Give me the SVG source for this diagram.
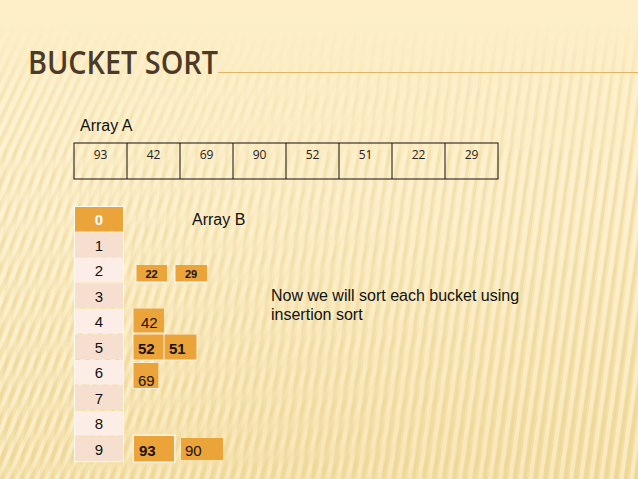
<svg xmlns="http://www.w3.org/2000/svg" width="638" height="479" viewBox="0 0 638 479">
<defs>
<linearGradient id="bg" x1="0" y1="0" x2="0" y2="1">
<stop offset="0" stop-color="#fdefc7"/>
<stop offset="0.45" stop-color="#fbeac0"/>
<stop offset="1" stop-color="#f2dc9f"/>
</linearGradient>
<linearGradient id="fade" x1="0" y1="0" x2="0" y2="1">
<stop offset="0" stop-color="#fff" stop-opacity="0"/>
<stop offset="0.15" stop-color="#fff" stop-opacity="1"/>
<stop offset="1" stop-color="#fff" stop-opacity="1"/>
</linearGradient>
<pattern id="stripesL" width="9" height="9" patternUnits="userSpaceOnUse" patternTransform="rotate(25)">
<rect width="4" height="9" fill="#fff8dc" opacity="0.55"/>
<rect x="4.5" width="3" height="9" fill="#e9d394" opacity="0.3"/>
</pattern>
<pattern id="stripesR" width="10" height="10" patternUnits="userSpaceOnUse" patternTransform="rotate(8)">
<rect width="4" height="10" fill="#fff8dc" opacity="0.4"/>
<rect x="5" width="3" height="10" fill="#e6cf8e" opacity="0.3"/>
</pattern>
<mask id="m">
<rect x="0" y="25" width="638" height="454" fill="url(#fade)"/>
</mask>
<linearGradient id="lr" x1="0" y1="0" x2="1" y2="0">
<stop offset="0" stop-color="#fff"/>
<stop offset="0.45" stop-color="#fff" stop-opacity="0.3"/>
<stop offset="1" stop-color="#fff" stop-opacity="0"/>
</linearGradient>
<linearGradient id="rl" x1="0" y1="0" x2="1" y2="0">
<stop offset="0" stop-color="#fff" stop-opacity="0"/>
<stop offset="0.5" stop-color="#fff" stop-opacity="0.4"/>
<stop offset="1" stop-color="#fff"/>
</linearGradient>
<mask id="mL"><rect width="638" height="479" fill="url(#lr)"/></mask>
<mask id="mR"><rect width="638" height="479" fill="url(#rl)"/></mask>
<style>
.t{font-family:"Liberation Sans",Arial,sans-serif;fill:#111}
.cell{fill:none;stroke:#111;stroke-width:1}
.ct{font-family:"Open Sans","Liberation Sans",sans-serif;font-size:12px;fill:#222;text-anchor:middle}
.odd{fill:#f6dfcf}
.even{fill:#fcede6}
.bn{font-family:"Liberation Sans",Arial,sans-serif;font-size:15px;fill:#111;text-anchor:middle}
.box{fill:#eba43a}
.bx{font-family:"Liberation Sans",Arial,sans-serif;fill:#1a1208}
</style>
</defs>
<rect width="638" height="479" fill="url(#bg)"/>
<g mask="url(#m)">
<rect y="25" width="638" height="454" fill="url(#stripesL)" mask="url(#mL)"/>
<rect y="25" width="638" height="454" fill="url(#stripesR)" mask="url(#mR)"/>
<rect y="150" width="638" height="329" fill="url(#stripesR)" opacity="0.5"/>
</g>
<g id="title">
<line x1="218" y1="72.5" x2="638" y2="72.5" stroke="#e4b466" stroke-width="1.2"/>
<text x="28" y="74" font-family="Open Sans,'Liberation Sans',sans-serif" font-size="33" font-weight="600" fill="#4b3a28" textLength="190" lengthAdjust="spacingAndGlyphs">BUCKET SORT</text>
</g>
<g id="arrayA-label"><text class="t" x="80" y="131" font-size="16">Array A</text></g>
<g id="arrayA">
<rect class="cell" x="74" y="143" width="424" height="36"/>
<path d="M127 143V179M180 143V179M233 143V179M286 143V179M339 143V179M392 143V179M445 143V179" stroke="#111" stroke-width="1"/>
<text class="ct" x="100.5" y="159">93</text>
<text class="ct" x="153.5" y="159">42</text>
<text class="ct" x="206.5" y="159">69</text>
<text class="ct" x="259.5" y="159">90</text>
<text class="ct" x="312.5" y="159">52</text>
<text class="ct" x="365.5" y="159">51</text>
<text class="ct" x="418.5" y="159">22</text>
<text class="ct" x="471.5" y="159">29</text>
</g>
<g id="arrayB">
<rect x="75" y="207" width="48" height="24.5" fill="#eba43a"/>
<rect class="odd" x="75" y="232.5" width="48" height="24.5"/>
<rect class="even" x="75" y="258" width="48" height="24.5"/>
<rect class="odd" x="75" y="283.5" width="48" height="24.5"/>
<rect class="even" x="75" y="309" width="48" height="24.5"/>
<rect class="odd" x="75" y="334.5" width="48" height="24.5"/>
<rect class="even" x="75" y="360" width="48" height="24.5"/>
<rect class="odd" x="75" y="385.5" width="48" height="24.5"/>
<rect class="even" x="75" y="411" width="48" height="24.5"/>
<rect class="odd" x="75" y="436.5" width="48" height="24.5"/>
<rect x="74.5" y="206.5" width="49" height="255" fill="none" stroke="#fff" stroke-opacity="0.8" stroke-width="1"/>
<text class="bn" x="99" y="225" font-weight="bold" style="fill:#fff">0</text>
<text class="bn" x="99" y="250.5">1</text>
<text class="bn" x="99" y="276">2</text>
<text class="bn" x="99" y="301.5">3</text>
<text class="bn" x="99" y="327">4</text>
<text class="bn" x="99" y="352.5">5</text>
<text class="bn" x="99" y="378">6</text>
<text class="bn" x="99" y="403.5">7</text>
<text class="bn" x="99" y="429">8</text>
<text class="bn" x="99" y="454.5">9</text>
</g>
<g id="arrayB-label"><text class="t" x="192" y="225" font-size="16">Array B</text></g>
<g id="b22">
<rect x="135" y="265" width="32" height="18" fill="#fdf3e0"/>
<rect class="box" x="136.5" y="265" width="30.5" height="16.5"/>
<text class="bx" x="151.5" y="277.5" font-size="11" font-weight="bold" text-anchor="middle">22</text>
</g>
<g id="b29">
<rect x="174" y="265" width="33" height="18" fill="#fdf3e0"/>
<rect class="box" x="175.5" y="265" width="31.5" height="16.5"/>
<text class="bx" x="191" y="277.5" font-size="11" font-weight="bold" text-anchor="middle">29</text>
</g>
<g id="b42">
<rect x="132.5" y="308.5" width="31.5" height="25" fill="#fdf3e0"/>
<rect class="box" x="133.5" y="308.5" width="30.5" height="24"/>
<text class="bx" x="141" y="328" font-size="15">42</text>
</g>
<g id="b52">
<rect x="132.5" y="334" width="32" height="26.5" fill="#fdf3e0"/>
<rect class="box" x="133.5" y="334.5" width="30" height="25"/>
<text class="bx" x="138" y="353.5" font-size="15" font-weight="bold">52</text>
</g>
<g id="b51">
<rect x="164" y="334" width="33.5" height="26.5" fill="#fdf3e0"/>
<rect class="box" x="164.5" y="334.5" width="32" height="25"/>
<text class="bx" x="169" y="353.5" font-size="15" font-weight="bold">51</text>
</g>
<g id="b69">
<rect x="132.5" y="362.5" width="26.5" height="26.5" fill="#fdf3e0"/>
<rect class="box" x="133.5" y="363" width="25" height="25"/>
<text class="bx" x="138" y="385.5" font-size="15">69</text>
</g>
<g id="b93">
<rect x="132.5" y="434.5" width="43" height="28.5" fill="#fdf3e0"/>
<rect class="box" x="134" y="436" width="40" height="25.5"/>
<text class="bx" x="139" y="455.5" font-size="15" font-weight="bold">93</text>
</g>
<g id="b90">
<rect class="box" x="181" y="438" width="42" height="22"/>
<text class="bx" x="185" y="455.5" font-size="15">90</text>
</g>
<g id="note">
<text class="t" x="271" y="301" font-size="16">Now we will sort each bucket using</text>
<text class="t" x="271" y="320" font-size="16">insertion sort</text>
</g>
</svg>
